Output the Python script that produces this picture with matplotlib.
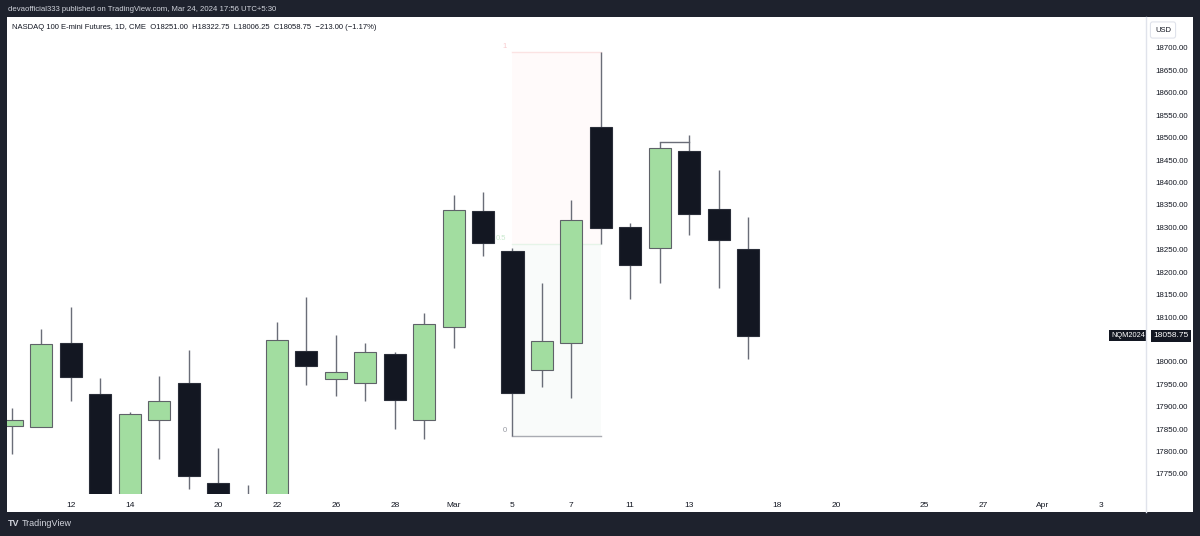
import matplotlib
matplotlib.use('Agg')
import matplotlib.pyplot as plt
import numpy as np
from matplotlib import font_manager
from matplotlib.patches import Rectangle

# ---------------- data ----------------
dates = ["2024-02-08", "2024-02-09", "2024-02-12", "2024-02-13", "2024-02-14", "2024-02-15",
         "2024-02-16", "2024-02-20", "2024-02-21", "2024-02-22", "2024-02-23", "2024-02-26",
         "2024-02-27", "2024-02-28", "2024-02-29", "2024-03-01", "2024-03-04", "2024-03-05",
         "2024-03-06", "2024-03-07", "2024-03-08", "2024-03-11", "2024-03-12", "2024-03-13",
         "2024-03-14", "2024-03-15"]
opens = [17857.7, 17855.5, 18041.5, 17928.4, 17650.0, 17870.4, 17952.3, 17730.6, 17660.0,
         17680.0, 18024.3, 17962.5, 17952.3, 18018.3, 17871.1, 18077.2, 18335.8, 18248.0,
         17981.9, 18041.5, 18524.5, 18301.5, 18253.3, 18470.3, 18341.0, 18251.00]
highs = [17897.9, 18072.7, 18121.8, 17963.4, 17888.3, 17968.6, 18026.5, 17808.0, 17725.5,
         18088.3, 18145.4, 18060.7, 18041.5, 18021.4, 18109.7, 18372.2, 18378.2, 18253.3,
         18175.3, 18361.0, 18691.8, 18309.1, 18491.0, 18506.0, 18427.9, 18322.75]
lows = [17794.6, 17855.5, 17913.5, 17600.0, 17620.0, 17782.8, 17717.2, 17590.0, 17550.0,
        17660.0, 17948.5, 17924.6, 17912.1, 17849.7, 17828.7, 18030.3, 18236.2, 17834.8,
        17944.7, 17918.8, 18263.6, 18140.3, 18175.3, 18283.0, 18164.1, 18006.25]
closes = [17869.8, 18039.9, 17965.7, 17640.0, 17883.2, 17913.5, 17745.6, 17640.0, 17620.0,
          18048.8, 17991.5, 17977.5, 18022.7, 17915.7, 18083.9, 18338.7, 18264.5, 17931.3,
          18045.9, 18316.4, 18297.9, 18216.1, 18477.7, 18329.2, 18271.8, 18058.75]
future_dates = ["2024-03-18", "2024-03-19", "2024-03-20", "2024-03-21", "2024-03-22",
                "2024-03-25", "2024-03-26", "2024-03-27", "2024-03-28", "2024-04-01",
                "2024-04-02", "2024-04-03"]
tick_dates = ["2024-02-12", "2024-02-14", "2024-02-20", "2024-02-22", "2024-02-26",
              "2024-02-28", "2024-03-01", "2024-03-05", "2024-03-07", "2024-03-11",
              "2024-03-13", "2024-03-18", "2024-03-20", "2024-03-25", "2024-03-27",
              "2024-04-01", "2024-04-03"]
tick_labels = ["12", "14", "20", "22", "26", "28", "Mar", "5", "7", "11", "13", "18", "20",
               "25", "27", "Apr", "3"]
price_ticks = list(range(17750, 18701, 50))
fib_start, fib_end = "2024-03-05", "2024-03-08"
hline_start, hline_end = "2024-03-12", "2024-03-13"
symbol = "NQM2024"
title = ("NASDAQ 100 E-mini Futures, 1D, CME  O18251.00  H18322.75  L18006.25  "
         "C18058.75  \u2212213.00 (\u22121.17%)")
publish = "devaofficial333 published on TradingView.com, Mar 24, 2024 17:56 UTC+5:30"

# ---------------- style ----------------
avail = {f.name for f in font_manager.fontManager.ttflist}
FONT = 'Liberation Sans Narrow' if 'Liberation Sans Narrow' in avail else 'Liberation Sans'
plt.rcParams['font.family'] = [FONT, 'DejaVu Sans']

W, H = 1200, 536
BG = '#1e222d'
UP = '#a2dda0'
DOWN = '#131722'
WICK = '#6a6d78'

fig = plt.figure(figsize=(W / 100, H / 100), dpi=100, facecolor=BG)

def fx(px):
    return px / W

def fy(py):
    return 1 - py / H

# white panel
fig.patches.append(Rectangle((fx(7), fy(512)), fx(1193) - fx(7), fy(17) - fy(512),
                             transform=fig.transFigure, facecolor='white',
                             edgecolor='none', zorder=-10))

ax_l, ax_r, ax_t, ax_b = 7, 1146, 17, 494
ax = fig.add_axes([fx(ax_l), fy(ax_b), fx(ax_r) - fx(ax_l), fy(ax_t) - fy(ax_b)])
ax.set_facecolor('none')
ax.set_zorder(1)

all_dates = dates + future_dates
pos = {d: i for i, d in enumerate(all_dates)}
x = np.array([pos[d] for d in dates])
o = np.array(opens); h = np.array(highs); l = np.array(lows); c = np.array(closes)
up = c >= o

# fib rectangle
fs, fe = pos[fib_start], pos[fib_end]
f0 = lows[dates.index(fib_start)]
f1 = highs[dates.index(fib_end)]
fmid = (f0 + f1) / 2
ax.add_patch(Rectangle((fs, fmid), fe - fs, f1 - fmid, facecolor='#fffafa',
                       edgecolor='none', zorder=1))
ax.add_patch(Rectangle((fs, f0), fe - fs, fmid - f0, facecolor='#f9fbfa',
                       edgecolor='none', zorder=1))
ax.plot([fs, fe], [f1, f1], color='#fbe3e3', lw=1, zorder=1.5)
ax.plot([fs, fe], [fmid, fmid], color='#e6f4e8', lw=1, zorder=1.5)
ax.plot([fs, fe], [f0, f0], color='#a9abb2', lw=1, zorder=1.5)
ax.text(fs - 0.2, f1 + 4, "1", color='#f7c9cc', fontsize=5.5, ha='right', va='bottom')
ax.text(fs - 0.2, fmid + 4, "0.5", color='#c8e9cd', fontsize=5.5, ha='right', va='bottom')
ax.text(fs - 0.2, f0 + 4, "0", color='#9598a1', fontsize=5.5, ha='right', va='bottom')

# wicks and bodies
ax.vlines(x, l, h, color=WICK, lw=1, zorder=2)
ax.bar(x[up], (c - o)[up], bottom=o[up], width=0.75, color=UP, edgecolor='#5f6269',
       linewidth=0.8, zorder=3)
ax.bar(x[~up], (o - c)[~up], bottom=c[~up], width=0.75, color=DOWN, edgecolor='#2a2e39',
       linewidth=0.8, zorder=3)

# drawn horizontal segment at Mar 12 high
hs, he = pos[hline_start], pos[hline_end]
hy = highs[dates.index(hline_start)]
ax.plot([hs, he], [hy, hy], color=WICK, lw=1, zorder=2)

# scales
spacing = 29.44
x0px = 12
ax.set_xlim((ax_l - x0px) / spacing, (ax_r - x0px) / spacing)
p_per_px = 950 / 426
ax.set_ylim(18700 - (ax_b - 48) * p_per_px, 18700 + (48 - ax_t) * p_per_px)

for s in ax.spines.values():
    s.set_visible(False)

ax.yaxis.tick_right()
ax.set_yticks(price_ticks)
ax.set_yticklabels([f"{p:.2f}" for p in price_ticks])
ax.tick_params(axis='y', length=0, pad=6.5, labelsize=5.7, labelcolor='#131722')
ax.set_xticks([pos[d] for d in tick_dates])
ax.set_xticklabels(tick_labels)
ax.tick_params(axis='x', length=0, pad=6, labelsize=6, labelcolor='#131722')

# separator line through time axis
fig.add_artist(plt.Line2D([fx(ax_r), fx(ax_r)], [fy(512), fy(17)],
                          transform=fig.transFigure, color='#e0e3eb', lw=1))

# header texts
fig.text(fx(8), fy(9.5), publish, color='#d1d4dc', fontsize=5.6, ha='left', va='center')
fig.text(fx(12), fy(27.5), title, color='#131722', fontsize=5.5, ha='left', va='center')

# USD box
fig.text(fx(1155), fy(30), "USD", color='#131722', fontsize=5.5, ha='left', va='center',
         bbox=dict(boxstyle='round,pad=0.6,rounding_size=0.3', facecolor='white',
                   edgecolor='#e0e3eb', lw=0.8))

# last price labels
last = closes[-1]
ytr = ax.get_yaxis_transform()
ax.text((1153 - ax_l) / (ax_r - ax_l), last, f"{last:.2f}", transform=ytr, color='white',
        fontsize=6, ha='left', va='center', clip_on=False,
        bbox=dict(boxstyle='square,pad=0.3', facecolor=DOWN, edgecolor='none'))
ax.text((1145 - ax_l) / (ax_r - ax_l), last, symbol, transform=ytr, color='white',
        fontsize=5.3, ha='right', va='center', clip_on=False,
        bbox=dict(boxstyle='square,pad=0.3', facecolor=DOWN, edgecolor='none'))

# footer logo
fig.text(fx(8), fy(524), "TV", color='#d1d4dc', fontsize=6.5, fontweight='bold',
         ha='left', va='center')
fig.text(fx(22), fy(524), "TradingView", color='#d1d4dc', fontsize=6.5,
         ha='left', va='center')

fig.savefig('out.png', dpi=100, facecolor=BG)
